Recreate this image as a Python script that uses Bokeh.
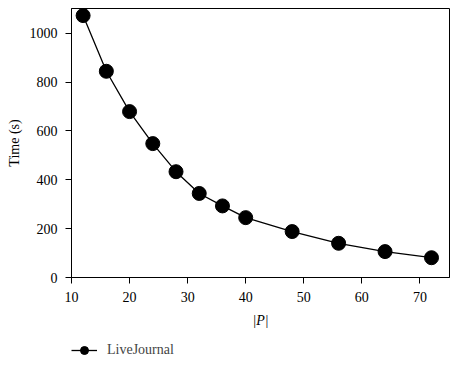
from bokeh.plotting import figure
from bokeh.layouts import column
from bokeh.models import Legend, LegendItem, Range1d, FixedTicker
from bokeh.embed import file_html
from bokeh.resources import INLINE

partitions = [12, 16, 20, 24, 28, 32, 36, 40, 48, 56, 64, 72]
time_s = [1072, 844, 679, 548, 433, 344, 293, 245, 188, 140, 106, 81]
x_ticks = [10, 20, 30, 40, 50, 60, 70]
y_ticks = [0, 200, 400, 600, 800, 1000]
series_name = "LiveJournal"

FONT = "Liberation Serif"

p = figure(frame_width=378, frame_height=269,
           output_backend="svg", toolbar_location=None,
           x_range=Range1d(10, 75.1), y_range=Range1d(0, 1101),
           min_border_left=71, min_border_top=8, min_border_right=9, min_border_bottom=0)
p.background_fill_color = "white"
p.border_fill_color = "white"
p.outline_line_color = "black"
p.outline_line_width = 1
p.grid.visible = False

p.line(partitions, time_s, line_color="black", line_width=1.3)
p.scatter(partitions, time_s, size=14, fill_color="black", line_color="black")

for ax in (p.xaxis[0], p.yaxis[0]):
    ax.major_label_text_font = FONT
    ax.major_label_text_font_size = "14px"
    ax.major_label_text_color = "black"
    ax.axis_label_text_font = FONT
    ax.axis_label_text_font_size = "14px"
    ax.axis_label_text_font_style = "normal"
    ax.axis_label_text_color = "black"
    ax.axis_line_color = "black"
    ax.major_tick_line_color = "black"
    ax.major_tick_out = 6
    ax.major_tick_in = 0
    ax.minor_tick_line_color = None

p.xaxis.ticker = FixedTicker(ticks=x_ticks)
p.yaxis.ticker = FixedTicker(ticks=y_ticks)
p.xaxis.axis_label = "|P|"
p.xaxis.axis_label_text_font_style = "italic"
p.yaxis.axis_label = "Time (s)"
p.xaxis.major_label_standoff = 8
p.yaxis.major_label_standoff = 8
p.xaxis.axis_label_standoff = 8
p.yaxis.axis_label_standoff = 5

# legend strip below the chart
lg = figure(width=458, height=40, output_backend="svg", toolbar_location=None,
            x_range=Range1d(0, 1), y_range=Range1d(0, 1),
            x_axis_location=None, y_axis_location=None,
            min_border_left=70, min_border_right=0, min_border_top=0, min_border_bottom=0)
lg.outline_line_color = None
lg.grid.visible = False
lg.background_fill_color = "white"
lg.border_fill_color = "white"
l2 = lg.line(partitions, time_s, line_color="black", line_width=1.3)
s2 = lg.scatter(partitions, time_s, size=14, fill_color="black", line_color="black")

legend = Legend(items=[LegendItem(label=series_name, renderers=[l2, s2])],
                location="left", orientation="horizontal",
                border_line_alpha=0, background_fill_alpha=0,
                glyph_width=26, label_standoff=10,
                label_text_font=FONT, label_text_font_size="14px",
                padding=0, margin=0)
lg.add_layout(legend)

layout = column(p, lg, spacing=0)
open("out.html", "w").write(file_html(layout, INLINE))
